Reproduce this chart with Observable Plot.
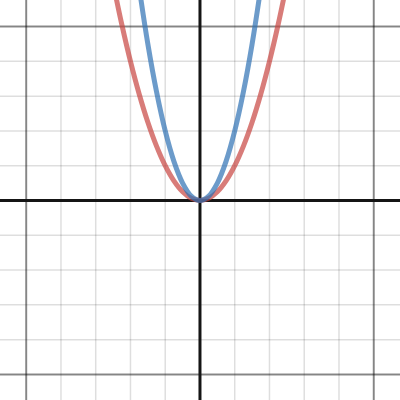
<!DOCTYPE html>
<html>
<head>
<meta charset="utf-8">
<script src="https://cdn.jsdelivr.net/npm/d3@7"></script>
<script src="https://cdn.jsdelivr.net/npm/@observablehq/plot@0.6"></script>
<style>
  html, body { margin: 0; padding: 0; background: #fff; }
  svg { display: block; }
</style>
</head>
<body>
<div id="chart"></div>
<script>
// grid ticks (graph units)
const minorTicks = [-5, -4, -3, -2, -1, 1, 2, 3, 4, 5];
const majorTicks = [-5, 5];
const axisTicks = [0];

// red curve (y = x²)
const redX = [-2.5, -2.25, -2, -1.75, -1.5, -1.25, -1, -0.75, -0.5, -0.25, 0, 0.25, 0.5, 0.75, 1, 1.25, 1.5, 1.75, 2, 2.25, 2.5];
const redY = [6.25, 5.0625, 4, 3.0625, 2.25, 1.5625, 1, 0.5625, 0.25, 0.0625, 0, 0.0625, 0.25, 0.5625, 1, 1.5625, 2.25, 3.0625, 4, 5.0625, 6.25];

// blue curve (y = 2x²)
const blueX = [-1.875, -1.75, -1.5, -1.25, -1, -0.75, -0.5, -0.25, 0, 0.25, 0.5, 0.75, 1, 1.25, 1.5, 1.75, 1.875];
const blueY = [7.03125, 6.125, 4.5, 3.125, 2, 1.125, 0.5, 0.125, 0, 0.125, 0.5, 1.125, 2, 3.125, 4.5, 6.125, 7.03125];

const red = redX.map((x, i) => ({x, y: redY[i]}));
const blue = blueX.map((x, i) => ({x, y: blueY[i]}));

const chart = Plot.plot({
  width: 400,
  height: 400,
  margin: 0,
  x: {domain: [-5.74, 5.77], axis: null},
  y: {domain: [-5.75, 5.75], axis: null},
  marks: [
    Plot.ruleX(minorTicks, {stroke: "#000", strokeOpacity: 0.13, strokeWidth: 1.5}),
    Plot.ruleY(minorTicks, {stroke: "#000", strokeOpacity: 0.13, strokeWidth: 1.5}),
    Plot.ruleX(majorTicks, {stroke: "#000", strokeOpacity: 0.4, strokeWidth: 2}),
    Plot.ruleY(majorTicks, {stroke: "#000", strokeOpacity: 0.4, strokeWidth: 2}),
    Plot.ruleX(axisTicks, {stroke: "#151515", strokeWidth: 3}),
    Plot.ruleY(axisTicks, {stroke: "#151515", strokeWidth: 3}),
    Plot.line(red, {x: "x", y: "y", curve: "catmull-rom", stroke: "#c74440", strokeOpacity: 0.7, strokeWidth: 5, clip: true}),
    Plot.line(blue, {x: "x", y: "y", curve: "catmull-rom", stroke: "#2d70b3", strokeOpacity: 0.7, strokeWidth: 5, clip: true})
  ]
});
document.getElementById("chart").appendChild(chart);
</script>
</body>
</html>
